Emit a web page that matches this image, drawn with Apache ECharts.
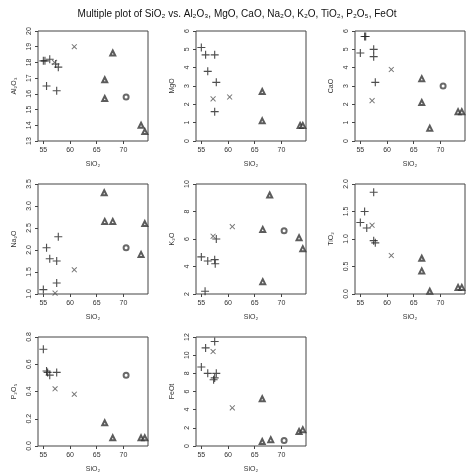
<!DOCTYPE html>
<html>
<head>
<meta charset="utf-8">
<script src="https://cdn.jsdelivr.net/npm/echarts@6/dist/echarts.min.js"></script>
<style>html,body{margin:0;background:#fff}#main{width:474px;height:474px}</style>
</head>
<body>
<div id="main"></div>
<script>
// 每个面板: [SiO2, 值]
var oxides = ['Al₂O₃', 'MgO', 'CaO', 'Na₂O', 'K₂O', 'TiO₂', 'P₂O₅', 'FeOt'];
var xTicks = [55, 60, 65, 70];
var yMin = [13, 0, 0, 1.0, 2, 0, 0, 0];
var yMax = [20, 6, 6, 3.5, 10, 2, 0.8, 12];
var yStep = [1, 1, 1, 0.5, 2, 0.5, 0.2, 2];
var plusPts = [
  [[55,18.1],[55.3,18.1],[56.2,18.2],[57.3,17.9],[57.8,17.7],[55.6,16.5],[57.5,16.2]],
  [[55,5.1],[55.8,4.7],[57.5,4.7],[56.2,3.8],[57.8,3.2],[57.5,1.6]],
  [[55,4.8],[55.8,5.7],[56,5.7],[57.5,5.0],[57.5,4.6],[57.8,3.2]],
  [[55,1.1],[55.6,2.05],[56.2,1.8],[57.5,1.75],[57.8,2.3],[57.5,1.25]],
  [[55,4.7],[56.2,4.4],[57.5,4.5],[57.6,4.2],[57.8,6.0],[55.7,2.2]],
  [[55,1.3],[55.8,1.5],[56.2,1.2],[57.5,1.85],[57.5,0.97],[57.8,0.93]],
  [[55,0.71],[55.6,0.55],[56.2,0.52],[57.5,0.54],[55.8,0.54]],
  [[55,8.7],[55.8,10.8],[56.2,8.0],[57.5,11.5],[57.5,7.5],[57.8,8.0],[57.3,7.3]]
];
var crossPts = [
  [[57.1,18.0],[60.8,19.0]],
  [[57.2,2.3],[60.3,2.4]],
  [[57.2,2.2],[60.8,3.9]],
  [[57.2,1.02],[60.8,1.55]],
  [[57.2,6.2],[60.8,6.9]],
  [[57.2,1.25],[60.8,0.7]],
  [[57.2,0.42],[60.8,0.38]],
  [[57.2,10.4],[60.8,4.2]]
];
var triPts = [
  [[66.5,16.9],[66.5,15.7],[68,18.6],[73.3,14.0],[74,13.6]],
  [[66.4,2.7],[66.4,1.1],[73.5,0.85],[74,0.85]],
  [[66.5,3.4],[66.5,2.1],[68,0.7],[73.3,1.6],[74,1.6]],
  [[66.4,3.3],[66.5,2.65],[68,2.65],[73.3,1.9],[74,2.6]],
  [[67.8,9.2],[66.5,6.7],[73.3,6.1],[74,5.3],[66.5,2.9]],
  [[66.5,0.65],[66.5,0.42],[68,0.05],[73.3,0.12],[74,0.12]],
  [[66.5,0.17],[68,0.06],[73.3,0.06],[74,0.06]],
  [[66.4,5.2],[66.4,0.5],[68,0.7],[73.3,1.6],[74,1.8]]
];
var circPts = [
  [[70.5,15.8]], [], [[70.5,3.0]], [[70.5,2.05]], [[70.5,6.6]], [], [[70.5,0.52]], [[70.5,0.6]]
];

var lefts = [38, 196, 355];
var tops = [31, 184, 337];
var grids = [], xAxes = [], yAxes = [], series = [];
var plusPath = 'path://M4.3,0H5.7V4.3H10V5.7H5.7V10H4.3V5.7H0V4.3H4.3Z';
var txt = {color: '#333', fontSize: 7, fontFamily: 'Liberation Sans'};

oxides.forEach(function (name, i) {
  var c = i % 3, r = Math.floor(i / 3);
  grids.push({left: lefts[c], top: tops[r], width: 110, height: 110, show: true,
    borderColor: '#444', borderWidth: 1, backgroundColor: '#fff'});
  xAxes.push({gridIndex: i, type: 'value', min: 54, max: 74.6,
    name: 'SiO₂', nameLocation: 'middle', nameGap: 20, nameTextStyle: txt,
    axisLine: {show: false}, splitLine: {show: false},
    axisTick: {show: true, length: 3, customValues: xTicks, lineStyle: {color: '#444'}},
    axisLabel: Object.assign({margin: 6, customValues: xTicks}, txt)});
  yAxes.push({gridIndex: i, type: 'value', min: yMin[i], max: yMax[i], interval: yStep[i],
    name: name, nameLocation: 'middle', nameGap: 20, nameTextStyle: txt,
    axisLine: {show: false}, splitLine: {show: false},
    axisTick: {show: true, length: 3, lineStyle: {color: '#444'}},
    axisLabel: Object.assign({margin: 5, rotate: 90,
      formatter: function (v) { return yStep[i] < 1 ? v.toFixed(1) : v; }}, txt)});
  var base = {type: 'scatter', xAxisIndex: i, yAxisIndex: i, silent: true};
  series.push(Object.assign({data: plusPts[i], symbol: plusPath, symbolSize: 8,
    itemStyle: {color: '#222'}}, base));
  series.push(Object.assign({data: crossPts[i], symbol: plusPath, symbolSize: 7, symbolRotate: 45,
    itemStyle: {color: '#555'}}, base));
  series.push(Object.assign({data: triPts[i], symbol: 'emptyTriangle', symbolSize: 5,
    itemStyle: {color: '#333', borderWidth: 0.9}}, base));
  series.push(Object.assign({data: circPts[i], symbol: 'emptyCircle', symbolSize: 5,
    itemStyle: {color: '#444', borderWidth: 0.8}}, base));
});

var myChart = echarts.init(document.getElementById('main'));
myChart.setOption({
  animation: false,
  title: {text: 'Multiple plot of SiO₂ vs. Al₂O₃, MgO, CaO, Na₂O, K₂O, TiO₂, P₂O₅, FeOt',
    left: 'center', top: 4,
    textStyle: {fontSize: 10, fontWeight: 'normal', color: '#111', fontFamily: 'Liberation Sans'}},
  grid: grids, xAxis: xAxes, yAxis: yAxes, series: series
});
</script>
</body>
</html>
